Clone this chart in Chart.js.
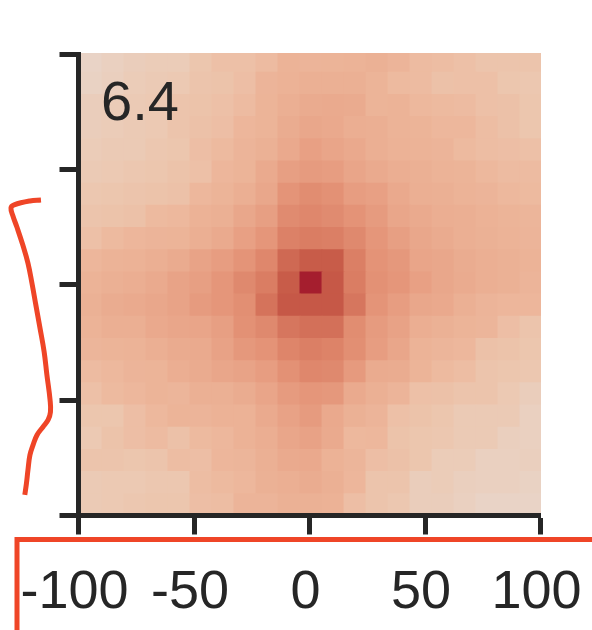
<!DOCTYPE html>
<html>
<head>
<meta charset="utf-8">
<style>
  html, body { margin: 0; background: #fff; }
</style>
<script src="https://cdn.jsdelivr.net/npm/chart.js@4"></script>
</head>
<body>
<canvas id="chart" width="592" height="630"></canvas>
<script>
// bin centres along x, rows of the map run top to bottom
const bins = [-100,-90,-80,-70,-60,-50,-40,-30,-20,-10,0,10,20,30,40,50,60,70,80,90,100];
const xTickLabels = [-100, -50, 0, 50, 100];
const peakLabel = "6.4";

const heat = [
  [0.2,0.4,0.6,0.7,0.7,1.1,1.5,1.5,1.8,2.6,2.4,2.5,2.6,2.8,2.4,1.8,1.7,1.5,1.2,1.2,1.2],
  [0.3,0.5,0.7,0.8,0.9,1.2,1.3,1.6,2.4,2.7,2.9,2.9,2.9,2.5,1.9,1.8,1.4,1.5,1.5,1.1,1.0],
  [0.6,0.7,0.8,0.9,1.2,1.3,1.5,1.8,2.5,3.0,3.3,3.4,3.3,2.5,2.6,2.0,1.9,1.8,1.5,1.4,1.1],
  [0.6,0.7,0.8,0.9,1.2,1.4,1.6,2.2,2.5,3.2,3.6,3.5,3.1,3.0,2.6,2.5,2.1,2.1,1.7,1.4,1.1],
  [0.7,0.8,0.8,1.0,1.1,1.6,1.9,2.4,2.8,3.5,4.1,3.8,3.5,3.0,2.7,2.6,2.4,1.9,1.7,1.6,1.5],
  [0.8,0.9,1.0,1.1,1.3,1.5,2.2,2.5,3.4,4.2,4.4,4.3,3.8,3.4,3.1,2.9,2.6,2.5,2.0,1.8,1.8],
  [1.0,1.1,1.2,1.3,1.4,2.1,2.5,3.0,3.6,4.8,5.2,5.0,4.3,4.1,3.5,3.0,2.9,2.6,2.4,2.0,1.9],
  [1.2,1.3,1.4,1.9,2.0,2.7,2.9,3.6,4.2,5.3,5.5,5.3,4.9,4.4,3.7,3.4,3.1,3.0,2.7,2.5,2.3],
  [1.5,1.9,2.2,2.4,2.5,3.0,3.4,4.1,4.7,5.8,6.0,5.9,5.4,4.7,4.2,3.6,3.3,3.0,2.8,2.6,2.4],
  [2.2,2.6,2.7,3.0,3.3,3.9,4.3,4.8,5.5,6.6,7.0,7.0,5.9,4.9,4.6,3.8,3.6,3.2,3.0,2.8,2.6],
  [2.6,2.9,3.1,3.4,3.9,4.2,4.7,5.4,6.0,7.0,10,7.2,6.0,5.0,4.7,4.1,3.6,3.3,3.0,2.8,2.4],
  [2.8,3.2,3.4,3.6,3.9,4.4,4.7,5.1,6.3,7.2,7.2,7.2,6.2,4.8,4.3,3.6,3.5,2.9,2.4,2.2,2.2],
  [2.6,3.0,3.0,3.5,3.7,3.8,4.2,5.0,5.4,6.2,6.4,6.4,5.2,4.4,4.0,3.1,2.8,2.5,2.3,1.6,1.2],
  [2.3,2.5,2.6,3.0,3.3,3.4,4.0,4.6,4.9,5.6,5.9,5.7,5.1,4.3,3.7,2.6,2.3,2.1,1.4,1.3,1.1],
  [1.8,2.0,2.4,2.5,3.1,3.3,3.7,3.9,4.3,5.0,5.5,5.4,4.5,3.3,3.2,2.5,1.9,1.7,1.2,1.1,1.0],
  [1.5,1.9,2.1,2.5,2.3,2.9,2.9,3.2,3.8,4.4,4.7,4.6,3.4,2.9,2.4,1.5,1.4,1.2,1.2,0.9,0.6],
  [1.1,1.1,1.6,2.0,2.5,2.4,2.7,2.7,3.4,4.0,4.4,3.5,2.8,2.4,1.5,1.3,1.1,0.8,0.8,0.8,0.4],
  [0.9,1.3,1.6,1.8,1.4,1.9,2.1,2.7,3.1,3.7,4.0,3.4,2.0,2.1,1.3,1.1,1.0,0.8,0.8,0.5,0.4],
  [1.2,1.2,1.1,1.2,1.7,1.6,2.2,2.3,2.9,3.4,3.5,2.7,2.3,1.6,1.4,1.1,0.7,0.7,0.4,0.4,0.5],
  [0.8,0.9,0.9,1.0,1.0,1.7,1.9,2.1,2.8,3.0,3.2,2.9,2.2,1.2,1.2,0.6,0.7,0.5,0.4,0.4,0.3],
  [0.8,0.9,1.0,1.1,1.1,1.6,1.7,2.4,2.4,2.8,2.8,2.7,1.6,1.2,1.0,0.6,0.6,0.4,0.2,0.2,0.2]
];

// side profile: position on the y axis and its amplitude
const profileLag = [36.7,36.3,34.6,33.3,29.8,25.0,17.2,9.4,0.8,-8.8,-18.3,-29.1,-39.1,-49.9,-55.1,-58.6,-61.6,-65.1,-69.4,-73.8,-80.3,-86.3,-91.1];
const profileAmp = [0.76,0.48,0.08,0,0.05,0.15,0.30,0.43,0.53,0.63,0.73,0.84,0.91,0.99,1,0.94,0.81,0.66,0.56,0.48,0.43,0.39,0.35];

const INK = "#262626";
const RED = "#EF4527";
const FONT = '"Liberation Sans", Arial, sans-serif';

// level -> colour
const ramp = [
  [0, [232, 214, 203]],
  [1, [236, 199, 176]],
  [2, [237, 184, 157]],
  [3, [235, 175, 147]],
  [4, [232, 162, 134]],
  [5, [227, 145, 117]],
  [6, [218, 125, 99]],
  [7, [200, 92, 73]],
  [10, [165, 30, 46]],
];

function heatColor(v) {
  for (let i = 1; i < ramp.length; i++) {
    if (v <= ramp[i][0]) {
      const [a, ca] = ramp[i - 1];
      const [b, cb] = ramp[i];
      const t = (v - a) / (b - a);
      const c = ca.map((x, k) => Math.round(x + (cb[k] - x) * t));
      return `rgb(${c[0]},${c[1]},${c[2]})`;
    }
  }
  return "rgb(165,30,46)";
}

// stacked from the bottom, so last row of the map goes first
const rowDatasets = heat.slice().reverse().map((row) => ({
  type: "bar",
  data: row.map((v, i) => ({ x: bins[i], y: 1 })),
  backgroundColor: row.map(heatColor),
  xAxisID: "xBin",
  yAxisID: "yRow",
  grouped: false,
  barPercentage: 1,
  categoryPercentage: 1,
  borderWidth: 0,
  inflateAmount: 0.5,
  clip: { left: 0, top: 1, right: 0.5, bottom: 0 },
}));

const profileDataset = {
  type: "line",
  data: profileLag.map((y, i) => ({ x: profileAmp[i], y })),
  xAxisID: "xProfile",
  yAxisID: "y",
  borderColor: RED,
  borderWidth: 5,
  pointRadius: 0,
  tension: 0.4,
  clip: false,
};

const overlay = {
  id: "overlay",
  afterDraw(chart) {
    const { ctx } = chart;
    ctx.save();
    // peak value
    ctx.font = "56px " + FONT;
    ctx.fillStyle = INK;
    ctx.textAlign = "left";
    ctx.textBaseline = "alphabetic";
    ctx.fillText(peakLabel, 101, 120);
    // red frame under the axis
    ctx.strokeStyle = RED;
    ctx.lineWidth = 5;
    ctx.beginPath();
    ctx.moveTo(17, 630);
    ctx.lineTo(17, 539.5);
    ctx.lineTo(592, 539.5);
    ctx.stroke();
    ctx.restore();
  },
};

new Chart(document.getElementById("chart"), {
  data: {
    datasets: [...rowDatasets, profileDataset],
  },
  options: {
    responsive: false,
    animation: false,
    layout: { padding: { top: 54, right: 51.5, left: 0, bottom: 0 } },
    plugins: { legend: { display: false }, tooltip: { enabled: false } },
    scales: {
      xBin: { type: "linear", display: false, stacked: true, offset: false, min: -105.7, max: 104.3 },
      yRow: { type: "linear", display: false, stacked: true, min: 0.02, max: 20.82 },
      xProfile: { type: "linear", display: false, min: 1.71, max: 13.41 },
      x: {
        type: "linear",
        position: "bottom",
        min: -100,
        max: 100,
        afterFit(scale) {
          scale.height = 114.5;
          // labels may overhang, keep the plot box fixed
          scale.paddingLeft = 0;
          scale.paddingRight = 0;
        },
        afterBuildTicks(scale) { scale.ticks = xTickLabels.map((value) => ({ value })); },
        border: { display: true, color: INK, width: 5, z: 2 },
        grid: { drawOnChartArea: false, drawTicks: true, tickLength: 19, tickWidth: 5, tickColor: INK, z: 2 },
        ticks: {
          autoSkip: false,
          maxRotation: 0,
          color: INK,
          font: { family: FONT, size: 54 },
          padding: 26,
          labelOffset: -4,
          z: 2,
        },
      },
      y: {
        type: "linear",
        position: "left",
        min: -100,
        max: 100,
        afterFit(scale) {
          scale.width = 78.5;
          scale.paddingTop = 0;
          scale.paddingBottom = 0;
        },
        border: { display: true, color: INK, width: 5, z: 2 },
        grid: { drawOnChartArea: false, drawTicks: true, tickLength: 19, tickWidth: 5, tickColor: INK, z: 2 },
        ticks: { stepSize: 50, autoSkip: false, callback: () => "", z: 2 },
      },
    },
  },
  plugins: [overlay],
});
</script>
</body>
</html>
